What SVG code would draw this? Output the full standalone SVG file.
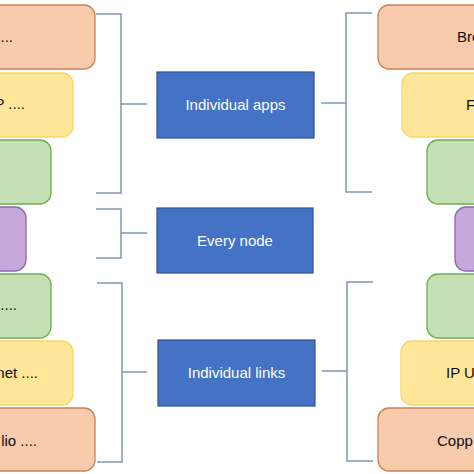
<svg xmlns="http://www.w3.org/2000/svg" width="474" height="474" viewBox="0 0 474 474">
<style>
.box{stroke-width:1.3}
.or{fill:#F8CBAD;stroke:#C8825C}
.ye{fill:#FFE699;stroke:#F5D66A}
.gr{fill:#C5E0B4;stroke:#6FAE4E}
.pu{fill:#C7A8DA;stroke:#8C68AD}
.bl{fill:#4472C4;stroke:#2F528F;stroke-width:1.2}
.t{font-family:"Liberation Sans",Arial,sans-serif;font-size:15px;fill:#111}
.w{font-family:"Liberation Sans",Arial,sans-serif;font-size:15px;fill:#fff;text-anchor:middle}
.c{fill:none;stroke:#8497B0;stroke-width:1.5}
</style>
<rect width="474" height="474" fill="#fff"/>
<g id="left-1"><rect class="box or" x="-150" y="5" width="245" height="64" rx="11"/><text class="t" x="13" y="42" text-anchor="end">....</text></g>
<g id="left-2"><rect class="box ye" x="-150" y="73" width="223" height="64" rx="11"/><text class="t" x="25" y="109" text-anchor="end">P ....</text></g>
<g id="left-3"><rect class="box gr" x="-150" y="140" width="201" height="64" rx="11"/></g>
<g id="left-4"><rect class="box pu" x="-150" y="207" width="176" height="64" rx="11"/></g>
<g id="left-5"><rect class="box gr" x="-150" y="274" width="201" height="64" rx="11"/><text class="t" x="17" y="310" text-anchor="end">....</text></g>
<g id="left-6"><rect class="box ye" x="-150" y="341" width="223" height="64" rx="11"/><text class="t" x="38" y="378" text-anchor="end">net ....</text></g>
<g id="left-7"><rect class="box or" x="-150" y="408" width="245" height="63" rx="11"/><text class="t" x="37" y="446" text-anchor="end">lio ....</text></g>

<g id="apps"><rect class="bl" x="157" y="72" width="157" height="66"/><text class="w" x="235.5" y="110">Individual apps</text></g>
<g id="node"><rect class="bl" x="157" y="208" width="156" height="65"/><text class="w" x="235" y="246">Every node</text></g>
<g id="links"><rect class="bl" x="158" y="340" width="157" height="66"/><text class="w" x="236.5" y="378">Individual links</text></g>

<g id="right-1"><rect class="box or" x="378" y="5" width="245" height="64" rx="11"/><text class="t" x="457" y="42">Bre</text></g>
<g id="right-2"><rect class="box ye" x="402" y="73" width="223" height="64" rx="11"/><text class="t" x="466" y="110">F</text></g>
<g id="right-3"><rect class="box gr" x="427" y="140" width="201" height="64" rx="11"/></g>
<g id="right-4"><rect class="box pu" x="455" y="207" width="176" height="64" rx="11"/></g>
<g id="right-5"><rect class="box gr" x="427" y="274" width="201" height="64" rx="11"/></g>
<g id="right-6"><rect class="box ye" x="401" y="341" width="223" height="64" rx="11"/><text class="t" x="446" y="378">IP U</text></g>
<g id="right-7"><rect class="box or" x="378" y="408" width="245" height="63" rx="11"/><text class="t" x="437" y="446">Copp</text></g>

<g id="connectors">
<path class="c" d="M96 14H121V193H96M121 104H147"/>
<path class="c" d="M96 209H121V258H96M121 233H147"/>
<path class="c" d="M97 283H122V462H97M122 372H147"/>
<path class="c" d="M372 13H346V192H372M346 103H321"/>
<path class="c" d="M373 282H347V461H373M347 371H322"/>
</g>
</svg>
